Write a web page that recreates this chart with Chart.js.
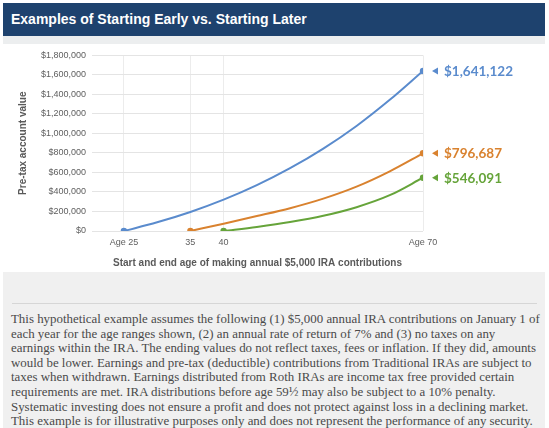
<!DOCTYPE html>
<html lang="en">
<head>
  <meta charset="UTF-8">
  <title>Examples of Starting Early vs. Starting Later</title>
  <script src="https://cdn.jsdelivr.net/npm/chart.js"></script>
  <style>
    body { margin: 0; background: #fff; width: 549px; height: 428px; position: relative; overflow: hidden; }
    #header {
      position: absolute; left: 3px; top: 3px; width: 542px; height: 33px;
      background: #1e426e; color: #fff;
      font: bold 14px "Liberation Sans", Arial, sans-serif;
      line-height: 33px; padding-left: 8px; box-sizing: border-box;
    }
    #band { position: absolute; left: 3px; top: 36px; width: 542px; height: 8px; background: #eceeef; }
    #chartWrap { position: absolute; left: 3px; top: 44px; width: 542px; height: 228px; }
    #note {
      position: absolute; left: 3px; top: 272px; width: 542px; height: 156px; background: #f0f0f0;
    }
    #rule { position: absolute; left: 9px; top: 31px; width: 525px; height: 1px; background: #d6d6d6; }
    #text {
      position: absolute; left: 8px; top: 40px;
      font: 12.9px "Liberation Serif", "Times New Roman", serif;
      line-height: 14.6px; color: #4a4a4a; white-space: nowrap;
    }
  </style>
</head>
<body>
  <div id="header">Examples of Starting Early vs. Starting Later</div>
  <div id="band"></div>
  <div id="chartWrap"><canvas id="iraChart" width="542" height="228"></canvas></div>
  <div id="note">
    <div id="rule"></div>
    <div id="text">
      This hypothetical example assumes the following (1) $5,000 annual IRA contributions on January 1 of<br>
      each year for the age ranges shown, (2) an annual rate of return of 7% and (3) no taxes on any<br>
      earnings within the IRA. The ending values do not reflect taxes, fees or inflation. If they did, amounts<br>
      would be lower. Earnings and pre-tax (deductible) contributions from Traditional IRAs are subject to<br>
      taxes when withdrawn. Earnings distributed from Roth IRAs are income tax free provided certain<br>
      requirements are met. IRA distributions before age 59½ may also be subject to a 10% penalty.<br>
      Systematic investing does not ensure a profit and does not protect against loss in a declining market.<br>
      This example is for illustrative purposes only and does not represent the performance of any security.
    </div>
  </div>

  <script>
    // Values (age -> pre-tax account value).
    const blueAges = [25, 30, 35, 40, 45, 50, 55, 60, 65, 70];
    const blueValues = [0, 89000, 195000, 321000, 470000, 644000, 845000, 1077000, 1345000, 1641122];

    const orangeAges = [35, 40, 45, 50, 55, 60, 65, 70];
    const orangeValues = [0, 75000, 153000, 234000, 332000, 455000, 612000, 796687];

    const greenAges = [40, 45, 50, 55, 60, 65, 70];
    const greenValues = [0, 42000, 92000, 156000, 244000, 367000, 546091];

    const xTickAges = [25, 35, 40, 70];
    const xTickLabels = ['Age 25', '35', '40', 'Age 70'];

    function toPoints(ages, values) {
      return ages.map((a, i) => ({ x: a, y: values[i] }));
    }

    // only the first and last point get a marker
    function endRadius(ctx) {
      const n = ctx.dataset.data.length;
      return (ctx.dataIndex === 0 || ctx.dataIndex === n - 1) ? 3.2 : 0;
    }

    function makeSet(label, ages, values, color) {
      return {
        label: label,
        data: toPoints(ages, values),
        borderColor: color,
        backgroundColor: color,
        borderWidth: 2,
        cubicInterpolationMode: 'monotone',
        pointRadius: endRadius,
        pointHoverRadius: endRadius,
        pointBorderWidth: 0
      };
    }

    // Draw the "◄ $value" tag beside the last point of every line.
    const endLabels = {
      id: 'endLabels',
      afterDatasetsDraw(chart) {
        const ctx = chart.ctx;
        chart.data.datasets.forEach((ds, i) => {
          const meta = chart.getDatasetMeta(i);
          const last = meta.data[meta.data.length - 1];
          const value = ds.data[ds.data.length - 1].y;
          const x = last.x, y = last.y;
          ctx.save();
          ctx.fillStyle = ds.borderColor;
          ctx.beginPath();
          ctx.moveTo(x + 9, y);
          ctx.lineTo(x + 15, y - 3.5);
          ctx.lineTo(x + 15, y + 3.5);
          ctx.closePath();
          ctx.fill();
          ctx.font = 'bold 13.5px Lato, "Open Sans", sans-serif';
          ctx.textBaseline = 'middle';
          ctx.textAlign = 'left';
          ctx.fillText('$' + value.toLocaleString('en-US'), x + 21, y + 0.5);
          ctx.restore();
        });
      }
    };

    const tickFont = { family: '"Liberation Sans", Arial, sans-serif', size: 9 };
    const titleFont = { family: '"Liberation Sans", Arial, sans-serif', size: 10, weight: 'bold' };

    new Chart(document.getElementById('iraChart'), {
      type: 'line',
      data: {
        datasets: [
          makeSet('Starting at 25', blueAges, blueValues, '#5a8bcd'),
          makeSet('Starting at 35', orangeAges, orangeValues, '#d9822f'),
          makeSet('Starting at 40', greenAges, greenValues, '#66a43a')
        ]
      },
      options: {
        responsive: false,
        animation: false,
        layout: { padding: { left: 0, top: 10, right: 122, bottom: 0 } },
        plugins: {
          legend: { display: false },
          tooltip: { enabled: false }
        },
        scales: {
          x: {
            type: 'linear',
            min: 20.2,
            max: 70,
            afterBuildTicks: (scale) => { scale.ticks = xTickAges.map(v => ({ value: v })); },
            afterFit: (scale) => { scale.height = 41; },
            ticks: {
              autoSkip: false,
              maxRotation: 0,
              padding: 6,
              color: '#606060',
              font: tickFont,
              callback: (value) => xTickLabels[xTickAges.indexOf(value)]
            },
            grid: { color: '#ececec', drawTicks: false },
            border: { display: false },
            title: {
              display: true,
              text: 'Start and end age of making annual $5,000 IRA contributions',
              color: '#5a5a5a',
              font: titleFont,
              padding: { top: 0, bottom: 3 }
            }
          },
          y: {
            min: 0,
            max: 1800000,
            afterFit: (scale) => { scale.width = 89; },
            ticks: {
              stepSize: 200000,
              padding: 6,
              color: '#606060',
              font: tickFont,
              callback: (value) => '$' + value.toLocaleString('en-US')
            },
            grid: { color: '#e4e4e4', drawTicks: false },
            border: { display: false },
            title: {
              display: true,
              text: 'Pre-tax account value',
              color: '#5a5a5a',
              font: titleFont,
              padding: { top: 14, bottom: 0 }
            }
          }
        }
      },
      plugins: [endLabels]
    });
  </script>
</body>
</html>
